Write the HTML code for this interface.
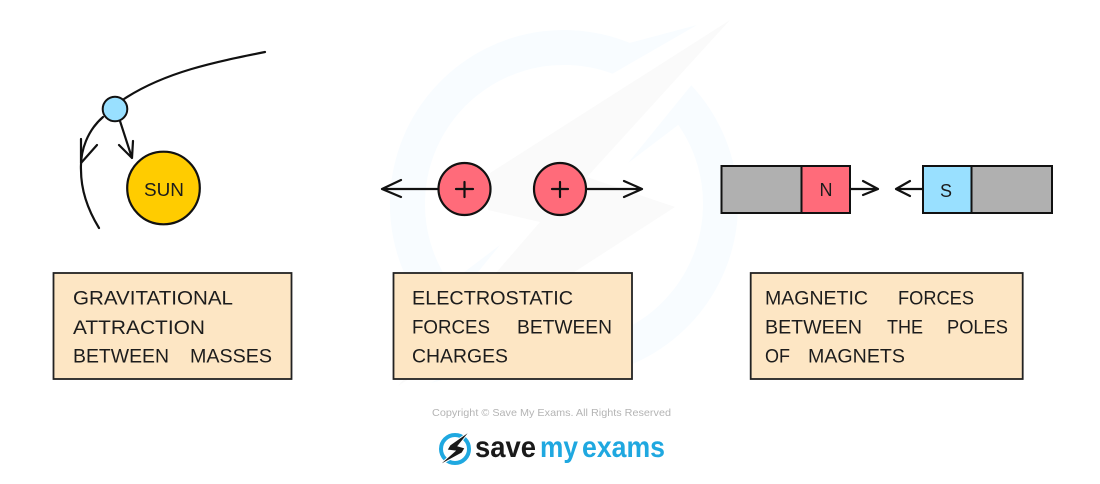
<!DOCTYPE html>
<html>
<head>
<meta charset="utf-8">
<style>
html,body{margin:0;padding:0;background:#fff;width:1100px;height:484px;overflow:hidden}
svg{display:block}
text{font-family:"Liberation Sans",sans-serif}
.t{font-size:19px;fill:#1c1c1c}
.s{fill:none;stroke:#111;stroke-width:2.2;stroke-linecap:round;stroke-linejoin:round}
.b{fill:#fde6c4;stroke:#222;stroke-width:1.8}
</style>
</head>
<body>
<svg width="1100" height="484" viewBox="0 0 1100 484" xmlns="http://www.w3.org/2000/svg">
<!-- watermark -->
<path d="M697 25L629.700 42.900A174 174 0 0 0 436.700 322.700L500 245L449.700 283.100A139 139 0 0 1 612.500 73.700Z" fill="#f8fcff"/>
<path d="M431 383L498.300 365.100A174 174 0 0 0 691.300 85.300L628 163L678.300 124.900A139 139 0 0 1 515.500 334.300Z" fill="#f8fcff"/>
<polygon points="730,20 490,173 488,210 540,222 398,386 675,207 587,177" fill="#fafafa"/>
<!-- gravity -->
<path class="s" d="M265 52C215 62 165 72 124 99"/>
<path class="s" d="M103 117C88 130 80 150 81 170C81 190 88 210 99 228"/>
<path class="s" d="M81 139L81 163L97 145"/>
<path class="s" d="M120 121L132 158M119 145L132 158L133 141"/>
<circle cx="115" cy="109" r="12.3" fill="#99e0ff" stroke="#111" stroke-width="2"/>
<circle cx="163.5" cy="188" r="36.3" fill="#ffcc00" stroke="#111" stroke-width="2.2"/>
<text x="144" y="196" class="t" style="font-size:18px" textLength="40" lengthAdjust="spacingAndGlyphs">SUN</text>
<!-- charges -->
<path class="s" d="M438 189L382 189M401 180L382 189L401 197"/>
<path class="s" d="M586 189L642 189M624 181L642 189L624 197"/>
<circle cx="464.5" cy="189" r="26" fill="#ff6b7a" stroke="#111" stroke-width="2.2"/>
<circle cx="560" cy="189" r="26" fill="#ff6b7a" stroke="#111" stroke-width="2.2"/>
<path class="s" d="M456 189L473 189M464.500 182L464.500 197"/>
<path class="s" d="M552 189L568 189M560 182L560 197"/>
<!-- magnets -->
<rect x="721.500" y="166" width="80" height="47" fill="#b0b0b0" stroke="#111" stroke-width="2"/>
<rect x="801.500" y="166" width="48.500" height="47" fill="#ff6b7a" stroke="#111" stroke-width="2"/>
<rect x="923" y="166" width="48.500" height="47" fill="#99e0ff" stroke="#111" stroke-width="2"/>
<rect x="971.500" y="166" width="80.500" height="47" fill="#b0b0b0" stroke="#111" stroke-width="2"/>
<text x="826" y="196" class="t" style="font-size:18px" text-anchor="middle">N</text>
<text x="946" y="197" class="t" style="font-size:18px" text-anchor="middle">S</text>
<path class="s" d="M850 189L878 189M863 181L878 189L863 195"/>
<path class="s" d="M923 189L896 189M910 181L896 189L910 196"/>
<!-- boxes -->
<rect class="b" x="53.500" y="273" width="238" height="106"/>
<text class="t" x="73" y="304.500" textLength="160" lengthAdjust="spacingAndGlyphs">GRAVITATIONAL</text>
<text class="t" x="73" y="334" textLength="132" lengthAdjust="spacingAndGlyphs">ATTRACTION</text>
<text class="t" x="73" y="362.500" textLength="96" lengthAdjust="spacingAndGlyphs">BETWEEN</text>
<text class="t" x="190" y="362.500" textLength="82" lengthAdjust="spacingAndGlyphs">MASSES</text>
<rect class="b" x="393.500" y="273" width="238.500" height="106"/>
<text class="t" x="412" y="304.500" textLength="161" lengthAdjust="spacingAndGlyphs">ELECTROSTATIC</text>
<text class="t" x="412" y="333.500" textLength="78" lengthAdjust="spacingAndGlyphs">FORCES</text>
<text class="t" x="517" y="333.500" textLength="95" lengthAdjust="spacingAndGlyphs">BETWEEN</text>
<text class="t" x="412" y="362.500" textLength="96" lengthAdjust="spacingAndGlyphs">CHARGES</text>
<rect class="b" x="750.700" y="273" width="272" height="106"/>
<text class="t" x="765" y="304.500" textLength="103" lengthAdjust="spacingAndGlyphs">MAGNETIC</text>
<text class="t" x="898" y="304.500" textLength="76" lengthAdjust="spacingAndGlyphs">FORCES</text>
<text class="t" x="765" y="333.500" textLength="97" lengthAdjust="spacingAndGlyphs">BETWEEN</text>
<text class="t" x="887" y="333.500" textLength="36" lengthAdjust="spacingAndGlyphs">THE</text>
<text class="t" x="947" y="333.500" textLength="61" lengthAdjust="spacingAndGlyphs">POLES</text>
<text class="t" x="765" y="362.500" textLength="25" lengthAdjust="spacingAndGlyphs">OF</text>
<text class="t" x="808" y="362.500" textLength="97" lengthAdjust="spacingAndGlyphs">MAGNETS</text>
<!-- footer -->
<text x="432" y="416" font-size="10.500" fill="#b4b4b4" textLength="239" lengthAdjust="spacingAndGlyphs">Copyright © Save My Exams. All Rights Reserved</text>
<circle cx="455" cy="449" r="14" fill="none" stroke="#1fa8e0" stroke-width="4"/>
<polygon points="470,431 450,445 447,450 455,451 438,466 462,453 465,448 458,446" fill="#1a1a1a" stroke="#fff" stroke-width="1"/>
<text x="475" y="457" font-size="30" font-weight="bold" fill="#1a1a1a" textLength="61" lengthAdjust="spacingAndGlyphs">save</text>
<text x="540" y="457" font-size="30" font-weight="bold" fill="#1fa8e0" textLength="38" lengthAdjust="spacingAndGlyphs">my</text>
<text x="582" y="457" font-size="30" font-weight="bold" fill="#1fa8e0" textLength="83" lengthAdjust="spacingAndGlyphs">exams</text>
</svg>
</body>
</html>
